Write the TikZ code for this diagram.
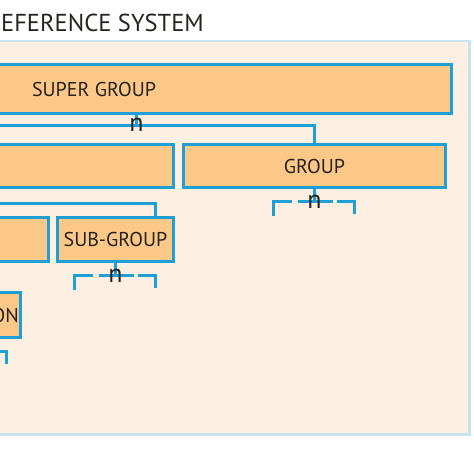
\documentclass[tikz,border=0pt]{standalone}
\usepackage{fontspec}
\setmainfont{PT Sans}
\usetikzlibrary{calc}
\definecolor{ink}{HTML}{262220}
\definecolor{frame}{HTML}{1EA0D7}
\definecolor{boxfill}{HTML}{FBC887}
\definecolor{panel}{HTML}{FDF0E2}
\definecolor{panelline}{HTML}{C8E4F0}

\newcommand\nbracket[1]{%
  \draw[link] (#1.south) -- ++(0,12.5) coordinate (#1-j);
  \draw[link,dash pattern=on 32pt off 6pt on 35pt off 4pt on 30pt off 1pt]
    ($(#1-j)+(-41,14)$) -- ++(0,-14) -- ++(81,0) -- ++(0,12);
}
\newcommand\nlink[1]{%
  \nbracket{#1}
  \node[nmark] (#1-n) at (#1-j) {n};
}

\begin{document}
\begin{tikzpicture}[
  x=1pt, y=-1pt,
  box/.style={draw=frame, fill=boxfill, line width=3pt, inner sep=0pt,
    text=ink, font=\fontsize{20}{22}\selectfont},
  boxtext/.style={text=ink, inner sep=0pt, font=\fontsize{20}{22}\selectfont},
  link/.style={draw=frame, line width=3pt},
  nmark/.style={text=ink, inner sep=0pt, font=\fontsize{26}{28}\selectfont}
]
  \useasboundingbox (0,0) rectangle (474,474);
  \clip (0,0) rectangle (474,474);

  \node[anchor=base west, text=ink, inner sep=0pt,
    font=\fontsize{24.5}{26}\selectfont] (title) at (1,31) {EFERENCE SYSTEM};
  \draw[panelline, fill=panel, line width=2.5pt] (-20,41) rectangle (469.5,434.5);

  \node[box, minimum width=715pt, minimum height=49pt] (super) at (94,89) {SUPER GROUP};
  \node[box, minimum width=430pt, minimum height=43pt] (lgroup) at (-41.5,166) {};
  \node[box, minimum width=262pt, minimum height=43pt] (group) at (314.5,166) {GROUP};
  \node[box, minimum width=115pt, minimum height=44pt] (lsub) at (-9,239.5) {};
  \node[box, minimum width=116pt, minimum height=44pt] (sub) at (115.5,239.5) {SUB-GROUP};
  \node[box, minimum width=109pt, minimum height=45pt] (part) at (-34,315) {};
  \node[boxtext, anchor=east] (partlabel) at ($(part.east)+(-3,0)$) {ON};

  \coordinate (sjoin) at ($(lgroup.north)!0.5!(group.north)+(0,-18)$);
  \draw[link] (lgroup.north) |- (sjoin) -| (group.north);
  \draw[link] (sjoin |- super.south) -- (sjoin);
  \node[nmark] (supern) at (sjoin) {n};

  \coordinate (gjoin) at ($(lgroup.south)+(0,14)$);
  \draw[link] (lgroup.south) -- (gjoin) -| ($(sub.north)+(40,0)$);

  \nlink{group}
  \nlink{sub}
  \nbracket{part}
\end{tikzpicture}
\end{document}
